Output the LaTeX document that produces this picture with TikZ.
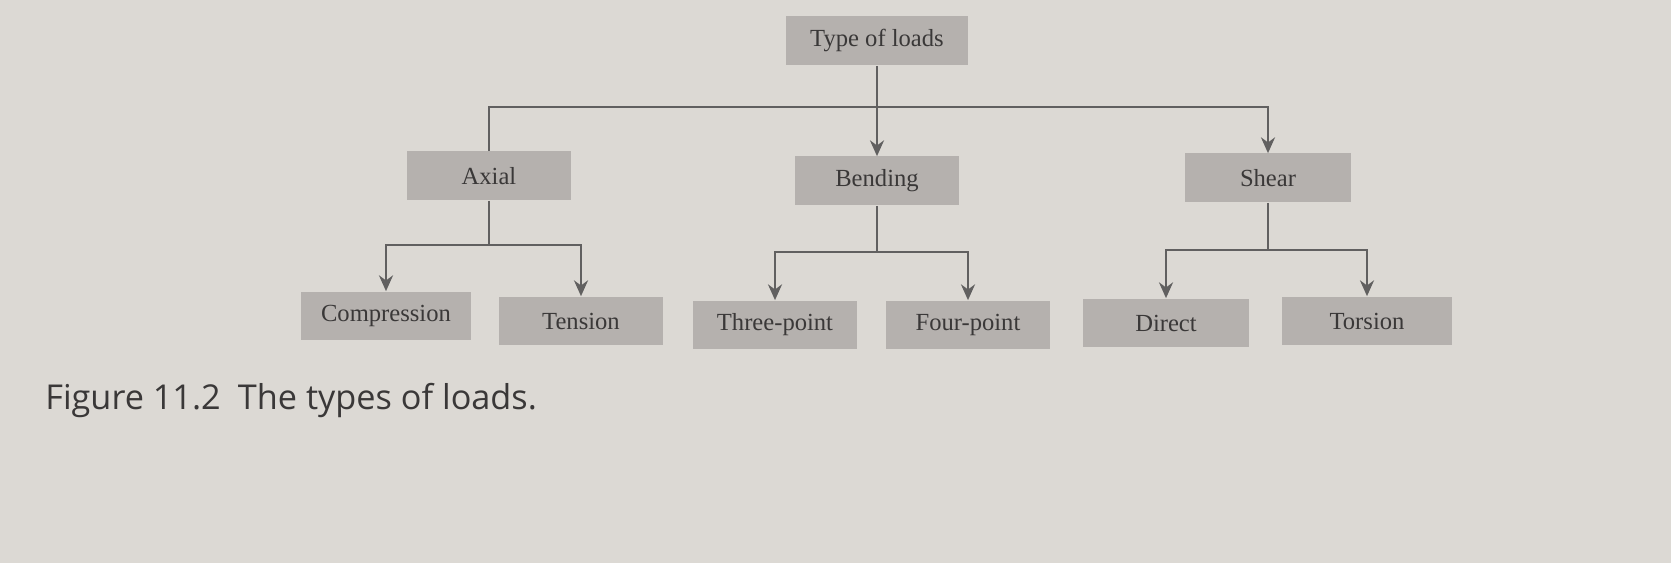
\documentclass[tikz,border=0pt]{standalone}
\usepackage{fontspec}
\setmainfont{Liberation Serif}
\newfontfamily\capfont{Open Sans}
\usetikzlibrary{arrows.meta}
\definecolor{page}{HTML}{DCD9D4}
\definecolor{boxc}{HTML}{B5B1AE}
\definecolor{ink}{HTML}{3A3838}
\tikzset{
  lbox/.style={fill=boxc, draw=none, minimum width=3.28cm, minimum height=0.98cm, inner sep=0pt, font=\fontsize{14}{16}\selectfont, text=ink},
  conn/.style={draw=ink!80, line width=1.2pt},
  arr/.style={conn, -{Stealth[length=9pt,width=8pt]}}
}
\begin{document}
\begin{tikzpicture}[x=0.02cm,y=-0.02cm]
\fill[page] (0,0) rectangle (1671,563);
\useasboundingbox (0,0) rectangle (1671,563);
\node[lbox, minimum width=3.66cm] (top) at (877,41) {Type of loads};
\node[lbox] (axial) at (489,176) {Axial};
\node[lbox] (bend) at (877,181) {Bending};
\node[lbox, minimum width=3.34cm] (shear) at (1268,178) {Shear};
\node[lbox, minimum width=3.42cm] (comp) at (386,316) {Compression};
\node[lbox] (tens) at (581,321) {Tension};
\node[lbox] (three) at (775,325) {Three-point};
\node[lbox] (four) at (968,325) {Four-point};
\node[lbox, minimum width=3.34cm] (direct) at (1166,323) {Direct};
\node[lbox, minimum width=3.4cm] (tors) at (1367,321) {Torsion};
\coordinate (j0) at (877,107);
\draw[conn] (top.south) -- (j0);
\draw[conn] (j0) -| (axial.north);
\draw[arr] (j0) -- (bend.north);
\draw[arr] (j0) -| (shear.north);
\coordinate (j1) at (489,245);
\draw[conn] (axial.south) -- (j1);
\draw[arr] (j1) -| (comp.north);
\draw[arr] (j1) -| (tens.north);
\coordinate (j2) at (877,252);
\draw[conn] (bend.south) -- (j2);
\draw[arr] (j2) -| (three.north);
\draw[arr] (j2) -| (four.north);
\coordinate (j3) at (1268,250);
\draw[conn] (shear.south) -- (j3);
\draw[arr] (j3) -| (direct.north);
\draw[arr] (j3) -| (tors.north);
\node[anchor=base west, inner sep=0pt, text=ink, font=\capfont\fontsize{19.5}{22}\selectfont] (cap) at (45,410) {Figure 11.2\enspace The types of loads.};
\end{tikzpicture}
\end{document}
